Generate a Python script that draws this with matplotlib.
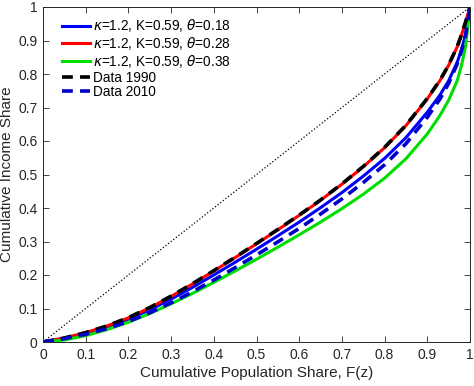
import matplotlib
matplotlib.use("Agg")
import matplotlib.pyplot as plt
import numpy as np

plt.rcParams['font.family'] = ['Liberation Sans', 'DejaVu Sans']
plt.rcParams['mathtext.fontset'] = 'dejavusans'

# Population share grid
pop_share = [0.0, 0.05, 0.1, 0.15, 0.2, 0.25, 0.3, 0.35, 0.4, 0.45, 0.5, 0.55, 0.6,
             0.65, 0.7, 0.75, 0.8, 0.85, 0.9, 0.93, 0.95, 0.97, 0.98, 0.99, 1.0]

# Model curves
model_018 = [0.0, 0.011, 0.026, 0.045, 0.068, 0.096, 0.128, 0.163, 0.200, 0.238, 0.277, 0.317, 0.358,
             0.401, 0.446, 0.495, 0.548, 0.610, 0.686, 0.738, 0.780, 0.835, 0.872, 0.920, 1.0]
model_028 = [0.0, 0.012, 0.028, 0.048, 0.072, 0.102, 0.136, 0.173, 0.212, 0.252, 0.293, 0.335, 0.378,
             0.423, 0.471, 0.523, 0.580, 0.646, 0.726, 0.781, 0.826, 0.881, 0.916, 0.956, 1.0]
model_038 = [0.0, 0.006, 0.019, 0.037, 0.059, 0.085, 0.114, 0.145, 0.178, 0.212, 0.247, 0.283, 0.320,
             0.358, 0.398, 0.441, 0.489, 0.547, 0.621, 0.677, 0.722, 0.780, 0.825, 0.885, 1.0]

# Data
data_1990 = [0.0, 0.012, 0.028, 0.048, 0.073, 0.103, 0.137, 0.174, 0.213, 0.253, 0.294, 0.336, 0.379,
             0.424, 0.472, 0.524, 0.581, 0.647, 0.727, 0.782, 0.827, 0.882, 0.917, 0.957, 1.0]
data_2010 = [0.0, 0.010, 0.023, 0.040, 0.061, 0.087, 0.117, 0.150, 0.185, 0.222, 0.260, 0.299, 0.339,
             0.382, 0.427, 0.476, 0.529, 0.592, 0.671, 0.726, 0.772, 0.830, 0.869, 0.918, 1.0]

legend_labels = [r'$\kappa$=1.2, K=0.59, $\theta$=0.18',
                 r'$\kappa$=1.2, K=0.59, $\theta$=0.28',
                 r'$\kappa$=1.2, K=0.59, $\theta$=0.38',
                 'Data 1990', 'Data 2010']

fig = plt.figure(figsize=(4.74, 3.86), dpi=100)
ax = fig.add_axes([43/474, 44/386, 427/474, 335/386])

dark = '#262626'
ax.plot([0, 1], [0, 1], color='black', linestyle=':', linewidth=0.9)
ax.plot(pop_share, model_018, color='#0000ff', linewidth=2.2, label=legend_labels[0])
ax.plot(pop_share, model_028, color='#ff0000', linewidth=2.2, label=legend_labels[1])
ax.plot(pop_share, model_038, color='#00dd00', linewidth=2.2, label=legend_labels[2])
ax.plot(pop_share, data_1990, color='black', linewidth=2.6, linestyle=(0, (3.0, 2.0)), label=legend_labels[3])
ax.plot(pop_share, data_2010, color='#0000cc', linewidth=2.6, linestyle=(0, (3.0, 2.0)), label=legend_labels[4])

ax.set_xlim(0, 1)
ax.set_ylim(0, 1)
ticks = np.round(np.arange(0, 1.01, 0.1), 1)
ticklabels = ['0'] + [f'{t:g}' for t in ticks[1:-1]] + ['1']
ax.set_xticks(ticks)
ax.set_xticklabels(ticklabels)
ax.set_yticks(ticks)
ax.set_yticklabels(ticklabels)
ax.tick_params(direction='in', top=True, right=True, length=4, width=0.6,
               colors=dark, labelsize=10, labelcolor=dark, pad=4)
for s in ax.spines.values():
    s.set_color(dark)
    s.set_linewidth(0.7)

ax.set_xlabel('Cumulative Population Share, F(z)', fontsize=11, color=dark, labelpad=3)
ax.set_ylabel('Cumulative Income Share', fontsize=11, color=dark, labelpad=3)

leg = ax.legend(loc='upper left', frameon=False, fontsize=9.8, handlelength=2.05,
                handletextpad=0.25, labelspacing=0.05, borderaxespad=0.0,
                bbox_to_anchor=(0.032, 0.985))

fig.savefig('out.png', dpi=100)
